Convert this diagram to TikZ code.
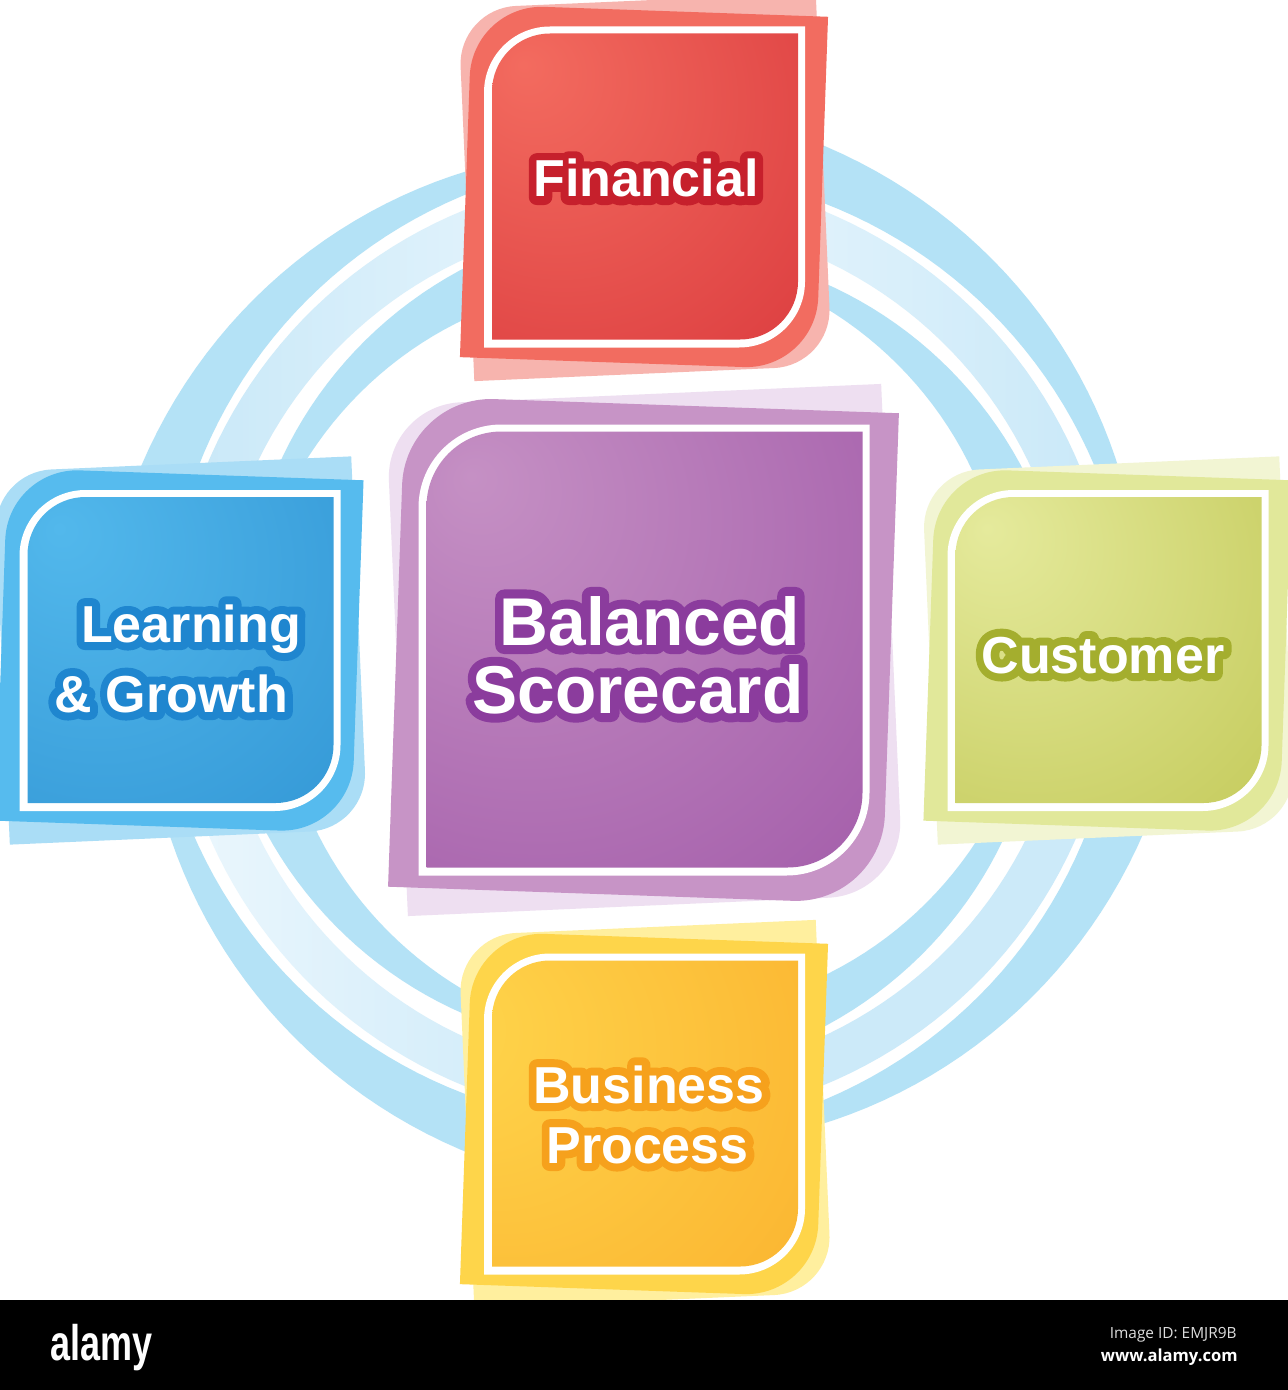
\documentclass[tikz,border=0pt]{standalone}
\usepackage{fontspec}
\newfontfamily\lsans{Liberation Sans}
\newfontfamily\osans{Open Sans}

\definecolor{ringblue}{RGB}{180,226,246}
\definecolor{bandL}{RGB}{236,247,253}
\definecolor{bandD}{RGB}{200,232,248}
\definecolor{bandM}{RGB}{204,234,249}
\definecolor{finlight}{RGB}{247,180,174}
\definecolor{finmed}{RGB}{242,108,96}
\definecolor{finline}{RGB}{198,32,44}
\definecolor{lrnlight}{RGB}{170,221,246}
\definecolor{lrnmed}{RGB}{86,187,238}
\definecolor{lrnline}{RGB}{31,134,207}
\definecolor{ballight}{RGB}{238,223,241}
\definecolor{balmed}{RGB}{199,148,198}
\definecolor{balline}{RGB}{139,60,157}
\definecolor{cuslight}{RGB}{242,245,211}
\definecolor{cusmed}{RGB}{225,232,154}
\definecolor{cusline}{RGB}{164,174,46}
\definecolor{buslight}{RGB}{255,239,158}
\definecolor{busmed}{RGB}{254,213,74}
\definecolor{busline}{RGB}{246,161,28}

\pgfdeclareradialshading{finsh}{\pgfpoint{-20bp}{20bp}}{rgb(0bp)=(0.953,0.420,0.373);rgb(90bp)=(0.796,0.106,0.157)}
\pgfdeclareradialshading{lrnsh}{\pgfpoint{-20bp}{20bp}}{rgb(0bp)=(0.322,0.722,0.925);rgb(90bp)=(0.114,0.502,0.776)}
\pgfdeclareradialshading{balsh}{\pgfpoint{-20bp}{20bp}}{rgb(0bp)=(0.773,0.565,0.769);rgb(90bp)=(0.541,0.212,0.588)}
\pgfdeclareradialshading{cussh}{\pgfpoint{-20bp}{20bp}}{rgb(0bp)=(0.898,0.918,0.612);rgb(90bp)=(0.675,0.702,0.169)}
\pgfdeclareradialshading{bussh}{\pgfpoint{-35bp}{15bp}}{rgb(0bp)=(1,0.839,0.298);rgb(90bp)=(0.973,0.620,0.118)}

% shape with rounded top-left and bottom-right corners (image coordinates, y down)
\newcommand\bsqpath[5]{({(#1)},{(#4)}) -- ({(#1)},{(#2)+(#5)}) .. controls ({(#1)},{(#2)+0.448*(#5)}) and ({(#1)+0.448*(#5)},{(#2)}) .. ({(#1)+(#5)},{(#2)}) -- ({(#3)},{(#2)}) -- ({(#3)},{(#4)-(#5)}) .. controls ({(#3)},{(#4)-0.448*(#5)}) and ({(#3)-0.448*(#5)},{(#4)}) .. ({(#3)-(#5)},{(#4)}) -- cycle}

% #1 cx, #2 cy, #3 half size, #4 radius, #5 layer offset, #6 light, #7 medium, #8 shading
\newcommand\cardbox[8]{%
  \begin{scope}[rotate around={2.5:(#1,#2)}]
    \fill[#6] \bsqpath{#1-#3-#5}{#2-#3-#5-7}{#1+#3+#5}{#2+#3+#5+8}{#4};
  \end{scope}
  \begin{scope}[rotate around={-2:(#1,#2)}]
    \fill[#7] \bsqpath{#1-#3-#5}{#2-#3-#5+3}{#1+#3+#5-2}{#2+#3+#5-2}{#4+14};
  \end{scope}
  \fill[white] \bsqpath{#1-#3-8}{#2-#3-7}{#1+#3+7}{#2+#3+8}{#4+8};
  \shade[shading=#8] \bsqpath{#1-#3}{#2-#3}{#1+#3}{#2+#3}{#4};
}

% outlined white text: one copy filled and stroked in the outline colour, white text on top
\newcommand\olt[3]{\leavevmode\rlap{\color{#1}\special{pdf:literal direct 1 j 1 J #2 w 2 Tr}#3\special{pdf:literal direct 0 Tr 0.3985 w 0 j 0 J}}{\color{white}#3}}

\tikzset{
  lbl/.style={anchor=base,inner sep=0pt,font=\lsans\bfseries\fontsize{26}{30}\selectfont},
  biglbl/.style={anchor=base,inner sep=0pt,font=\lsans\bfseries\fontsize{33.8}{36}\selectfont}
}

\begin{document}
\begin{tikzpicture}[x=0.5pt,y=-0.5pt]
\useasboundingbox (0,0) rectangle (1288,1390);
\fill[white] (0,0) rectangle (1288,1390);

% ---- rings ----
\foreach \q/\cl/\cr in {180/bandD/bandL, 90/bandL/bandD, 0/bandM/bandM, -90/bandL/bandD}{
  \pgfmathsetmacro\qe{\q-90}
  % outer band
  \fill[ringblue] plot[domain=\q:\qe,samples=46,variable=\ang] ({643+(544-46*(\q-\ang)/90)*cos(\ang)},{648-(544-46*(\q-\ang)/90)*sin(\ang)})
     -- plot[domain=\qe:\q,samples=46,variable=\ang] ({643+(477+13*(\q-\ang)/90)*cos(\ang)},{648-(477+13*(\q-\ang)/90)*sin(\ang)}) -- cycle;
  % middle band
  \shade[left color=\cl,right color=\cr] plot[domain=\q:\qe,samples=46,variable=\ang] ({643+473*cos(\ang)},{648-473*sin(\ang)})
     -- plot[domain=\qe:\q,samples=46,variable=\ang] ({643+428*cos(\ang)},{648-428*sin(\ang)}) -- cycle;
  % inner band
  \fill[ringblue] plot[domain=\q:\qe,samples=46,variable=\ang] ({643+(399+29*(\q-\ang)/90)*cos(\ang)},{648-(399+29*(\q-\ang)/90)*sin(\ang)})
     -- plot[domain=\qe:\q,samples=46,variable=\ang] ({643+(396-32*(\q-\ang)/90)*cos(\ang)},{648-(396-32*(\q-\ang)/90)*sin(\ang)}) -- cycle;
}

% ---- boxes ----
\cardbox{644.5}{649.5}{218}{75}{30}{ballight}{balmed}{balsh}
\cardbox{645}{186.5}{153}{58}{26}{finlight}{finmed}{finsh}
\cardbox{180.5}{650}{153}{58}{26}{lrnlight}{lrnmed}{lrnsh}
\cardbox{1108.5}{650}{153}{58}{26}{cuslight}{cusmed}{cussh}
\cardbox{645}{1113.5}{153}{58}{26}{buslight}{busmed}{bussh}

% ---- labels ----
\node[lbl] (fin) at (646,197) {\olt{finline}{8}{Financial}};
\node[lbl] (lrn1) at (191,642) {\olt{lrnline}{8}{Learning}};
\node[lbl] (lrn2) at (171,712) {\olt{lrnline}{8}{\& Growth}};
\node[biglbl] (bal1) at (650,645) {\olt{balline}{9}{Balanced}};
\node[biglbl] (bal2) at (638,713) {\olt{balline}{9}{Scorecard}};
\node[lbl] (cus) at (1103,673) {\olt{cusline}{8}{Customer}};
\node[lbl] (bus1) at (649,1103) {\olt{busline}{8}{Business}};
\node[lbl] (bus2) at (647.5,1163) {\olt{busline}{8}{Process}};

% ---- bottom bar ----
\fill[black] (0,1300) rectangle (1288,1390);
\node[anchor=base west,inner sep=0pt,text=white,font=\lsans\bfseries\fontsize{25}{25}\selectfont] (logo) at (50,1360) {\scalebox{0.72}[1]{alamy}};
\node[anchor=base east,inner sep=0pt,text=white!87!black,font=\osans\fontsize{7.7}{8}\selectfont] (imgid) at (1237,1338) {Image ID: EMJR9B};
\node[anchor=base east,inner sep=0pt,text=white,font=\osans\bfseries\fontsize{8.3}{9}\selectfont] (url) at (1238,1361) {www.alamy.com};
\end{tikzpicture}
\end{document}
